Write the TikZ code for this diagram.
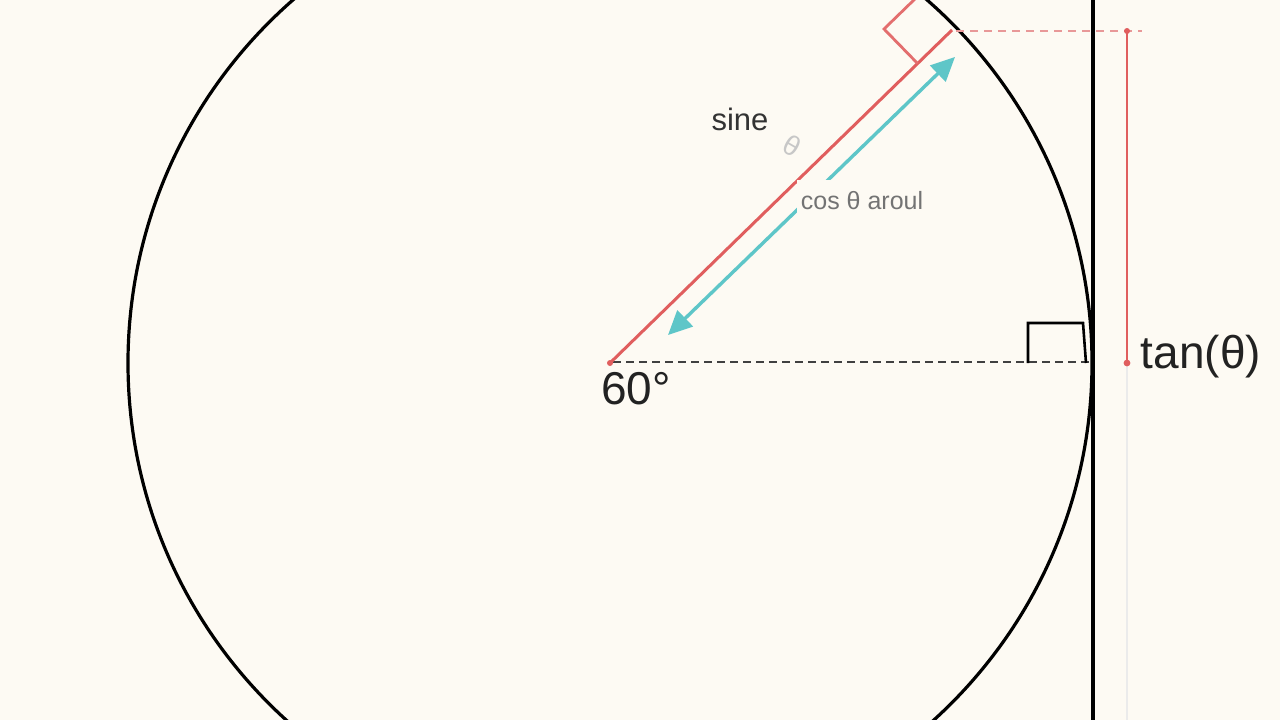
\documentclass[tikz,border=0pt]{standalone}
\usepackage{fontspec}
\setmainfont{Liberation Sans}
\usetikzlibrary{arrows.meta}
\definecolor{bg}{HTML}{FDFAF3}
\definecolor{redl}{HTML}{E05E5E}
\definecolor{redd}{HTML}{E89898}
\definecolor{cyanl}{HTML}{5EC6C8}
\definecolor{txt}{HTML}{222222}
\tikzset{
  geo/.style={line width=3.2pt, black},
  redline/.style={line width=3pt, redl},
  dashblack/.style={line width=1.7pt, black!75, dash pattern=on 8pt off 5pt},
  dashred/.style={line width=1.6pt, redd, dash pattern=on 8pt off 6pt},
  cyanarrow/.style={line width=3.4pt, cyanl, {Triangle[length=24pt,width=22pt]}-{Triangle[length=24pt,width=22pt]}},
  bigtxt/.style={font=\fontsize{46}{50}\selectfont, text=txt, inner sep=0pt},
  midtxt/.style={font=\fontsize{31}{34}\selectfont, text=black!80, inner sep=0pt},
  dotr/.style={fill=redl, draw=none}
}
\begin{document}
\begin{tikzpicture}[x=1pt,y=-1pt]
\useasboundingbox[fill=bg] (0,0) rectangle (1280,720);
\clip (0,0) rectangle (1280,720);
% points
\coordinate (O) at (610,363);
\coordinate (P) at (952,30);
\coordinate (A) at (917.6,63.5);
\coordinate (B) at (884,29);
\coordinate (C) at (918.5,-4.5);
\coordinate (Dr) at (1142,31);
\coordinate (Pd) at (956,31);
\coordinate (Tt) at (1127,31);
\coordinate (Tb) at (1127,363);
\coordinate (Gb) at (1127,720);
\coordinate (Lt) at (1093,-5);
\coordinate (Lb) at (1093,725);
\coordinate (Hd) at (613,362);
\coordinate (He) at (1089,362);
\coordinate (R1) at (1028,363);
\coordinate (R2) at (1028,323);
\coordinate (R3) at (1083,323);
\coordinate (R4) at (1086,363);
\coordinate (Ca) at (668,335);
\coordinate (Cb) at (955,57);
% faint guide below tangent point
\draw[line width=2pt, black!8] (Tb) -- (Gb);
% circle
\draw[geo] (O) circle[radius=482pt];
% tangent line
\draw[line width=3.6pt, black] (Lt) -- (Lb);
% dashed horizontal
\draw[dashblack] (Hd) -- (He);
% right angle at tangent point
\draw[line width=2.6pt, black] (R1) -- (R2) -- (R3) -- (R4);
% dashed red at top
\draw[dashred] (Pd) -- (Dr);
% red tan segment
\draw[line width=2.8pt, redl] (Tt) -- (Tb);
\fill[dotr] (Tt) circle[radius=3pt];
\fill[dotr] (Tb) circle[radius=3.4pt];
% radius line
\draw[redline] (O) -- (P);
\fill[dotr] (O) circle[radius=3pt];
% red right angle square
\draw[line width=2.8pt, redl!90] (A) -- (B) -- (C);
% cyan arrow
\draw[cyanarrow] (Ca) -- (Cb);
% labels
\node[midtxt] (sine) at (740,119) {sine};
\node[font=\fontsize{28}{30}\selectfont, text=black!22, rotate=-30, inner sep=0pt] (th) at (792,146) {θ};
\node[font=\fontsize{25}{28}\selectfont, text=black!55, fill=bg, inner xsep=4pt, minimum height=42pt] (cos) at (862,201) {cos θ aroul};
\node[bigtxt] (sixty) at (636,389) {60°};
\node[bigtxt] (tan) at (1201,357) {tan(θ)};
\end{tikzpicture}
\end{document}
